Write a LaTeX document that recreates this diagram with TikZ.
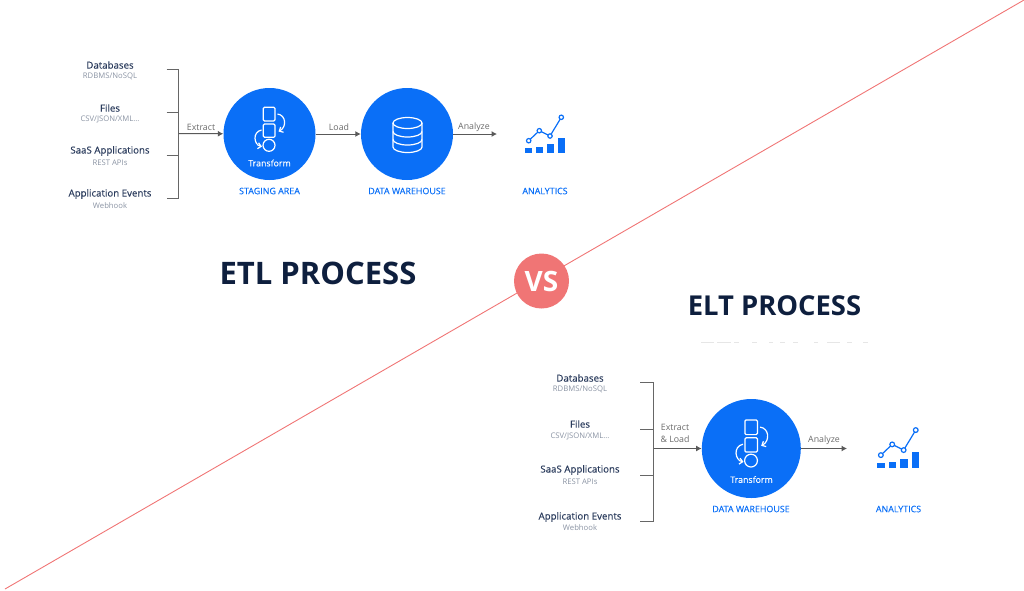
\documentclass[tikz,border=0pt]{standalone}
\usepackage{fontspec}
\setmainfont{Open Sans}
\newfontfamily\headfont{Open Sans}
\newfontfamily\semifont[FakeBold=0.2]{Open Sans}
\usetikzlibrary{arrows.meta}
\definecolor{blueA}{HTML}{0A6FF7}
\definecolor{ink}{HTML}{2A3B5C}
\definecolor{subg}{HTML}{8A93A3}
\definecolor{arrowg}{HTML}{595959}
\definecolor{lab}{HTML}{6B6B6B}
\definecolor{brk}{HTML}{666666}
\definecolor{headc}{HTML}{0E1F3E}
\definecolor{redl}{HTML}{F07575}
\definecolor{ghost}{HTML}{E6E6E6}
\tikzset{
  x=1pt,y=-1pt,
  srcmain/.style={inner sep=0pt,text=ink,font=\semifont\fontsize{9.7}{11}\selectfont},
  srcsub/.style={inner sep=0pt,text=subg,font=\fontsize{7.7}{8}\selectfont},
  caption/.style={inner sep=0pt,text=blueA,font=\semifont\fontsize{8.9}{10}\selectfont},
  flowlab/.style={inner sep=0pt,text=lab,font=\fontsize{8.8}{10}\selectfont},
  disc/.style={circle,fill=blueA,draw=none,inner sep=0pt,minimum size=#1},
  bracket/.style={draw=brk,line width=1pt},
  flow/.style={draw=arrowg,line width=1pt,-{Latex[length=5.5pt,width=6pt]}},
  title/.style={inner sep=0pt,text=headc,font=\headfont\bfseries\fontsize{#1}{#1}\selectfont},
  intext/.style={inner sep=0pt,text=white,font=\semifont\fontsize{8.8}{10}\selectfont},
  iconw/.style={draw=white,line width=1.2pt},
  ghostline/.style={draw=ghost,line width=0.8pt},
  pics/transformicon/.style={code={
    \draw[iconw,rounded corners=1.2pt] (-5.7,-26.7) rectangle (6,-13);
    \draw[iconw,rounded corners=1.2pt] (-5.7,-10) rectangle (6,3.3);
    \draw[iconw] (0,11.3) circle (6);
    \draw[iconw,-{Straight Barb[length=3.2pt,width=6pt]}] (8.5,-20) .. controls (17,-19) and (18,-7) .. (9.5,-2.5);
    \draw[iconw,-{Straight Barb[length=3.2pt,width=6pt]}] (-7.5,-4) .. controls (-17,-2) and (-15,11) .. (-7,12.5);
  }},
  pics/charticon/.style={code={
    \fill[blueA] (-19.7,13.3) rectangle (-12.7,17.7);
    \fill[blueA] (-9,12) rectangle (-2,17.7);
    \fill[blueA] (2,9.3) rectangle (9,17.7);
    \fill[blueA] (12.7,3) rectangle (19.7,17.7);
    \draw[blueA,line width=1.2pt] (-16.3,5.7) -- (-5.7,-4.3) -- (5,1) -- (16.3,-17.7);
    \foreach \p in {(-16.3,5.7),(-5.7,-4.3),(5,1),(16.3,-17.7)}
      \draw[blueA,line width=1.2pt,fill=white] \p circle (2.2);
  }},
  pics/dbicon/.style={code={
    \draw[iconw] (-14.5,-12) -- (-14.5,12) arc[start angle=180,end angle=360,x radius=14.5,y radius=-5.5] -- (14.5,-12);
    \draw[iconw] (0,-12) ellipse (14.5 and 5.5);
    \draw[iconw] (-14.5,-3.5) arc[start angle=180,end angle=360,x radius=14.5,y radius=-5.5];
    \draw[iconw] (-14.5,4.5) arc[start angle=180,end angle=360,x radius=14.5,y radius=-5.5];
  }},
}
\begin{document}
\begin{tikzpicture}
\useasboundingbox (0,0) rectangle (1024,590);
% diagonal with VS badge
\coordinate (diagA) at (5,589);
\coordinate (diagB) at (1024,0);
\draw[redl,line width=0.9pt] (diagA) -- (diagB);
\node[disc=55pt,fill=redl,text=white,font=\bfseries\fontsize{28}{28}\selectfont] (vs) at (541.5,281) {VS};
\node[title=31] (etlt) at (318,273.5) {ETL PROCESS};
\node[title=27.4] (eltt) at (774.5,306) {ELT PROCESS};
% faint remnant under the ELT title
\foreach \a/\b in {701/714,717/731,734/739,752/757,769/773,780/785,793/798,814/818,827/840,847/852,863/868}
  \draw[ghostline] (\a,342.5) -- (\b,342.5);
% ETL sources
\node[srcmain] (ea) at (110,65) {Databases};
\node[srcsub] (eas) at (110,76.5) {RDBMS/NoSQL};
\node[srcmain] (eb) at (110,108) {Files};
\node[srcsub] (ebs) at (110,119.5) {CSV/JSON/XML...};
\node[srcmain] (ec) at (110,151) {SaaS Applications};
\node[srcsub] (ecs) at (110,162.5) {REST APIs};
\node[srcmain] (ed) at (110,194) {Application Events};
\node[srcsub] (eds) at (110,205.5) {Webhook};
\coordinate (e1) at (166.5,69.5);
\coordinate (e2) at (178.5,69.5);
\coordinate (e3) at (166.5,112.5);
\coordinate (e4) at (178.5,112.5);
\coordinate (e5) at (166.5,155.5);
\coordinate (e6) at (178.5,155.5);
\coordinate (e7) at (166.5,198.5);
\coordinate (e8) at (178.5,198.5);
\coordinate (ej) at (178.5,133.5);
\draw[bracket] (e1) -- (e2) -- (e8) -- (e7);
\draw[bracket] (e3) -- (e4);
\draw[bracket] (e5) -- (e6);
% ETL flow
\node[disc=92pt] (stage) at (269.5,134) {};
\node[disc=92pt] (dw) at (407,134) {};
\coordinate (eend) at (497,134);
\draw[flow] (ej) -- (stage);
\draw[flow] (stage) -- (dw);
\draw[flow] (dw) -- (eend);
\node[flowlab] (l1) at (201,127) {Extract};
\node[flowlab] (l2) at (339,127) {Load};
\node[flowlab] (l3) at (474,127) {Analyze};
\pic at (269,134) {transformicon};
\node[intext] (t1) at (269.5,163) {Transform};
\pic at (407.5,135) {dbicon};
\pic at (545,135) {charticon};
\node[caption] (c1) at (269.5,191) {STAGING AREA};
\node[caption] (c2) at (407,191) {DATA WAREHOUSE};
\node[caption] (c3) at (545,191) {ANALYTICS};
% ELT sources
\node[srcmain] (fa) at (580,378) {Databases};
\node[srcsub] (fas) at (580,389.5) {RDBMS/NoSQL};
\node[srcmain] (fb) at (580,424) {Files};
\node[srcsub] (fbs) at (580,436) {CSV/JSON/XML...};
\node[srcmain] (fc) at (580,470) {SaaS Applications};
\node[srcsub] (fcs) at (580,482) {REST APIs};
\node[srcmain] (fd) at (580,517) {Application Events};
\node[srcsub] (fds) at (580,528) {Webhook};
\coordinate (f1) at (640,382.5);
\coordinate (f2) at (653.5,382.5);
\coordinate (f3) at (640,429);
\coordinate (f4) at (653.5,429);
\coordinate (f5) at (640,475);
\coordinate (f6) at (653.5,475);
\coordinate (f7) at (640,521.5);
\coordinate (f8) at (653.5,521.5);
\coordinate (fj) at (653.5,448.5);
\draw[bracket] (f1) -- (f2) -- (f8) -- (f7);
\draw[bracket] (f3) -- (f4);
\draw[bracket] (f5) -- (f6);
% ELT flow
\node[disc=99pt] (dw2) at (751.3,448.5) {};
\coordinate (fend) at (847,448.5);
\draw[flow] (fj) -- (dw2);
\draw[flow] (dw2) -- (fend);
\node[flowlab] (l4) at (675,427) {Extract};
\node[flowlab] (l5) at (675,439) {\& Load};
\node[flowlab] (l6) at (824,440) {Analyze};
\pic[scale=1.07] at (751,448.5) {transformicon};
\node[intext] (t2) at (751.5,479.5) {Transform};
\pic[scale=1.07] at (898.3,449) {charticon};
\node[caption] (c4) at (751,509) {DATA WAREHOUSE};
\node[caption] (c5) at (898.5,509) {ANALYTICS};
\end{tikzpicture}
\end{document}
